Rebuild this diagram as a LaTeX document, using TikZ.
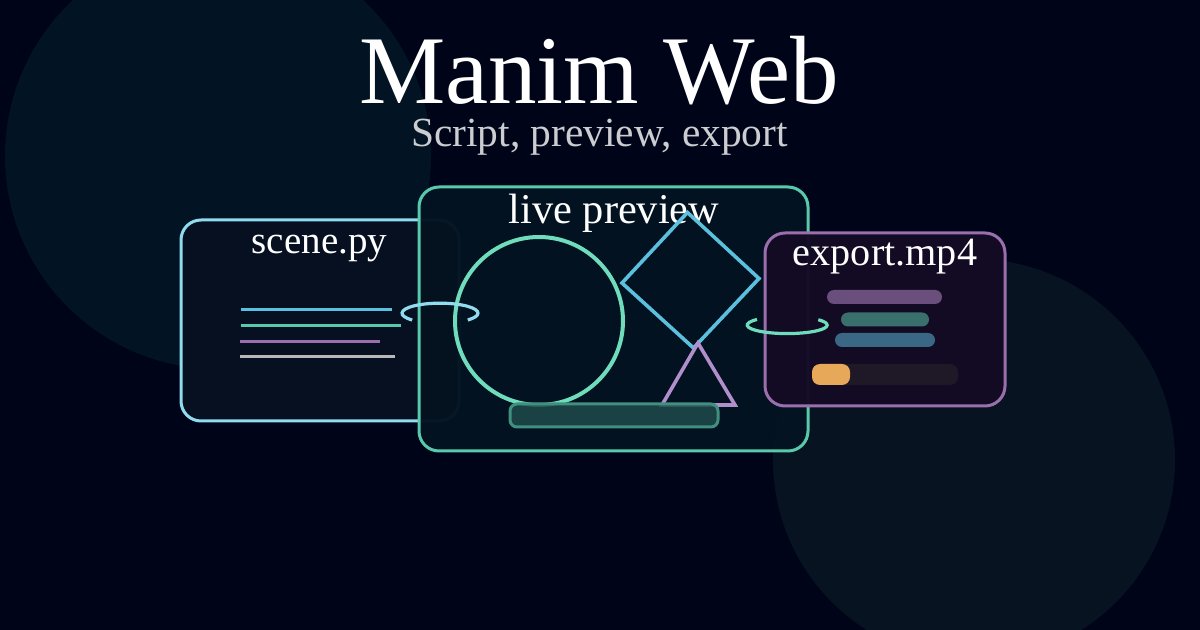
\documentclass[tikz,border=0pt]{standalone}
\usepackage{fontspec}
\setmainfont{Liberation Serif}
\definecolor{bgdark}{HTML}{000418}
\definecolor{blobA}{HTML}{021424}
\definecolor{blobB}{HTML}{071321}
\definecolor{skyline}{HTML}{5BC0DE}
\definecolor{paleline}{HTML}{90DCEE}
\definecolor{mintline}{HTML}{58C9AC}
\definecolor{mintlight}{HTML}{6FDCBC}
\definecolor{plumline}{HTML}{9B6FAD}
\definecolor{lilacline}{HTML}{B08FCC}
\definecolor{greyline}{HTML}{B8B8B8}
\definecolor{orangebar}{HTML}{E8A85A}
\definecolor{scenefill}{HTML}{061020}
\definecolor{previewfill}{HTML}{041321}
\definecolor{exportfill}{HTML}{140B25}
\definecolor{barline}{HTML}{3F9080}
\definecolor{barfill}{HTML}{1F4A4A}
\definecolor{pillplum}{HTML}{6A4E7C}
\definecolor{pillmint}{HTML}{3A706C}
\definecolor{pillsky}{HTML}{3A6884}
\definecolor{trackfill}{HTML}{1F1826}
\begin{document}
\begin{tikzpicture}[x=.5pt,y=-.5pt,
panel/.style={rectangle, rounded corners=10pt, line width=1.5pt, inner sep=0pt, outer sep=0pt},
pill/.style={rectangle, rounded corners=3.5pt, inner sep=0pt, outer sep=0pt, minimum height=7pt},
codeline/.style={line width=1.5pt},
caption/.style={anchor=base, inner sep=0pt, text=white, font=\fontsize{19.5}{22}\selectfont},
loopline/.style={line width=1.6pt}]
\useasboundingbox (0,0) rectangle (1200,630);
\clip (0,0) rectangle (1200,630);
\fill[bgdark] (0,0) rectangle (1200,630);
\fill[blobA] (218,156) circle (106.5pt);
\fill[blobB] (974,460) circle (100.5pt);
% script panel
\node[panel, draw=paleline, fill=scenefill, minimum width=139pt, minimum height=100.5pt] (scene) at (320,320.5) {};
\node[caption] (scenelabel) at (319.5,253.5) {scene.py};
\coordinate (c1a) at (241,310); \coordinate (c1b) at (392,310);
\coordinate (c2a) at (241,325.5); \coordinate (c2b) at (401,325.5);
\coordinate (c3a) at (240,341.5); \coordinate (c3b) at (380,341.5);
\coordinate (c4a) at (240,357); \coordinate (c4b) at (394.5,357);
\draw[codeline, skyline] (c1a) -- (c1b);
\draw[codeline, mintline] (c2a) -- (c2b);
\draw[codeline, plumline] (c3a) -- (c3b);
\draw[codeline, greyline] (c4a) -- (c4b);
% preview panel
\node[panel, draw=mintline, fill=previewfill, fill opacity=.975, minimum width=194.5pt, minimum height=132pt] (preview) at (613.5,319) {};
\node[caption, font=\fontsize{21.2}{24}\selectfont] (previewlabel) at (614,224) {live preview};
\node[circle, draw=mintlight, line width=2pt, inner sep=0pt, minimum size=84pt] (ball) at (539,321) {};
\draw[skyline, line width=1.8pt] (687.5,212.5) -- (759,278.5) -- (693.5,348) -- (622,283) -- cycle;
\draw[lilacline, line width=1.8pt] (698,343) -- (735,405) -- (662,405) -- cycle;
\node[pill, draw=barline, fill=barfill, fill opacity=.85, line width=1.5pt, rounded corners=3.5pt, minimum width=104pt, minimum height=11.5pt] (bar) at (614,415.5) {};
% export panel
\node[panel, draw=plumline, fill=exportfill, fill opacity=.975, minimum width=120pt, minimum height=86.5pt] (export) at (885,319.5) {};
\node[caption, font=\fontsize{20.1}{24}\selectfont] (exportlabel) at (885,265.5) {export.mp4};
\node[pill, fill=pillplum, minimum width=57.5pt] (pa) at (884.5,297) {};
\node[pill, fill=pillmint, minimum width=44pt] (pb) at (885,319.5) {};
\node[pill, fill=pillsky, minimum width=50pt] (pc) at (885,340) {};
\node[pill, fill=trackfill, minimum width=73pt, minimum height=10.5pt, rounded corners=4pt] (track) at (885,374.5) {};
\node[pill, fill=orangebar, minimum width=19pt, minimum height=10.5pt, rounded corners=4pt] (fillbar) at (831,374.5) {};
% loops
\coordinate (loopa) at (412.2,320);
\coordinate (loopb) at (757,319.5);
\draw[loopline, paleline] (loopa) arc[start angle=137, end angle=403, x radius=38, y radius=10];
\draw[loopline, mintlight] (loopb) arc[start angle=221, end angle=-39, x radius=40, y radius=8.5];
% titles
\node[anchor=base, inner sep=0pt, text=white, font=\fontsize{48.5}{50}\selectfont] (title) at (599,104) {Manim Web};
\node[anchor=base, inner sep=0pt, text=white!80!bgdark, font=\fontsize{20.7}{24}\selectfont] (subtitle) at (599.5,146.5) {Script, preview, export};
\end{tikzpicture}
\end{document}
